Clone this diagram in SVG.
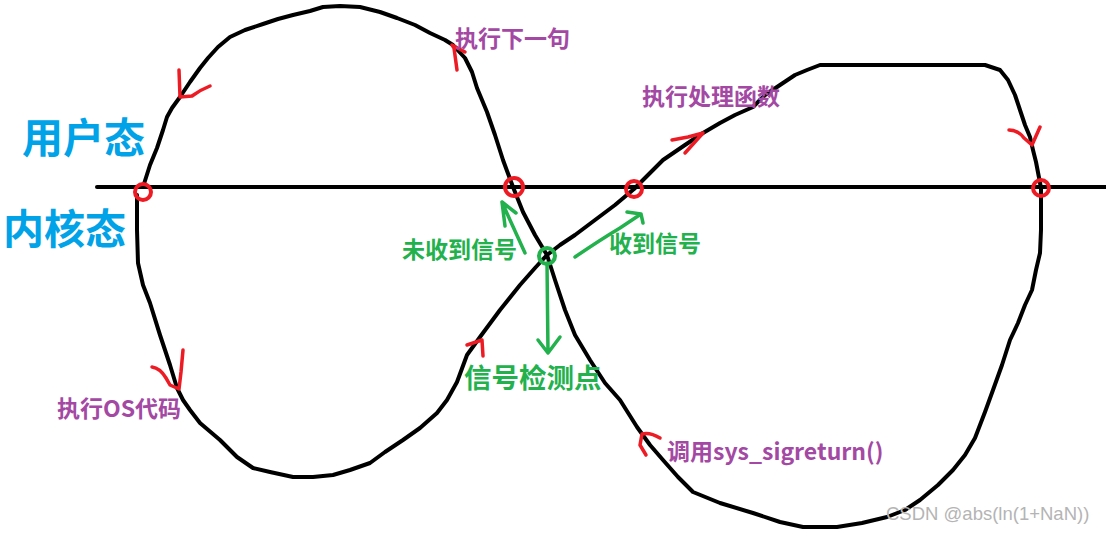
<svg xmlns="http://www.w3.org/2000/svg" width="1106" height="533" viewBox="0 0 1106 533">
<style>
.curve{fill:none;stroke:#000;stroke-width:4;stroke-linejoin:round;stroke-linecap:round}
.red{fill:none;stroke:#ed1c24;stroke-width:3.5;stroke-linejoin:round;stroke-linecap:round}
.grn{fill:none;stroke:#22b14c;stroke-width:3.5;stroke-linejoin:round;stroke-linecap:round}
.rc{fill:none;stroke:#ed1c24;stroke-width:4}
.gc{fill:none;stroke:#22b14c;stroke-width:4}
.mode{font-family:"Noto Sans CJK SC","Noto Sans",sans-serif;font-weight:bold;fill:#00a2e8}
.pur{font-family:"Noto Sans CJK SC","Noto Sans",sans-serif;font-weight:bold;fill:#a349a4;font-size:23px}
.gt{font-family:"Noto Sans CJK SC","Noto Sans",sans-serif;font-weight:bold;fill:#22b14c}
.wm{font-family:"Liberation Sans",Arial,sans-serif;fill:#b4b4b4;font-size:18.5px}
</style>
<rect width="1106" height="533" fill="#fff"/>
<g id="connectors">
<line class="curve" x1="97" y1="187" x2="1106" y2="187"/>
<path class="curve" d="M143,187 L150,165 L157,148 L163,130 L167,117 L172,108 L180,97 L190,82 L200,68 L208,58 L218,47 L230,37 L245,30 L263,24 L278,19 L293,15 L310,11 L323,7 L340,6 L360,7 L380,12 L397,18 L415,25 L430,33 L445,40 L453,45 L465,58 L472,72 L477,88 L487,112 L495,135 L503,160 L513,187 L523,212 L535,235 L547,255 L555,280 L565,310 L575,335 L590,360 L605,383 L620,400 L637,427 L650,445 L663,460 L678,477 L693,492 L720,503 L753,513 L780,522 L803,527 L837,527 L862,523 L887,517 L905,510 L920,500 L938,485 L953,470 L965,455 L975,438 L985,412 L993,390 L1002,365 L1010,340 L1018,323 L1025,305 L1032,290 L1036,270 L1040,253 L1041,230 L1041,188"/>
<path class="curve" d="M1041,188 L1036,162 L1033,150 L1030,137 L1025,125 L1020,110 L1015,95 L1008,80 L1000,70 L985,65 L950,65 L900,65 L820,65 L807,70 L795,75 L780,85 L765,95 L753,107 L735,115 L720,123 L703,133 L685,145 L663,160 L650,173 L634,189 L615,205 L595,220 L575,235 L560,245 L547,255 L535,268 L520,285 L500,310 L480,337 L467,355 L457,382 L447,400 L437,413 L420,428 L403,440 L385,452 L370,463 L350,470 L333,475 L313,477 L293,477 L270,472 L253,468 L237,457 L220,440 L200,423 L190,410 L183,400 L177,388 L170,365 L160,335 L150,303 L143,285 L138,263 L137,230 L137,195"/>
<path class="red" d="M179,70 L180,97 L192,96 Q200,90 210,86"/>
<path class="red" d="M457,70 L454,48 L452,45 L465,52"/>
<path class="red" d="M672,140 L688,137 L703,133 L685,153"/>
<path class="red" d="M1009,130 Q1018,130 1024,138 L1032,145 L1040,127"/>
<path class="red" d="M152,367 Q160,368 166,378 L170,385 L179,389 L181,372 L183,350"/>
<path class="red" d="M467,345 L482,340 L483,356"/>
<path class="red" d="M660,438 Q650,432 642,434 L640,445 L646,455"/>
<path class="grn" d="M525,253 L510,220 L502,202 M502,202 L505,226 M502,202 L516,213"/>
<path class="grn" d="M575,257 Q600,240 620,228 L641,214 M641,214 L627,212 M641,214 L643,223"/>
<path class="grn" d="M547,263 L548,353 M548,353 L538,340 M548,353 L560,337"/>
</g>
<g id="node-p1"><circle class="rc" cx="143" cy="192" r="8"/></g>
<g id="node-p2"><circle class="rc" cx="514" cy="187" r="9"/></g>
<g id="node-p3"><circle class="rc" cx="634" cy="189" r="8"/></g>
<g id="node-p4"><circle class="rc" cx="1041" cy="188" r="8"/></g>
<g id="node-check"><circle class="gc" cx="547" cy="256" r="8"/></g>
<g id="label-user"><text class="mode" x="22" y="153" font-size="41">用户态</text></g>
<g id="label-kernel"><text class="mode" x="3" y="244" font-size="41">内核态</text></g>
<g id="label-next"><text class="pur" x="455" y="47">执行下一句</text></g>
<g id="label-handler"><text class="pur" x="642" y="105">执行处理函数</text></g>
<g id="label-os"><text class="pur" x="57" y="417">执行OS代码</text></g>
<g id="label-sigreturn"><text class="pur" x="667" y="460">调用sys_sigreturn()</text></g>
<g id="label-nosig"><text class="gt" x="402" y="258" font-size="23">未收到信号</text></g>
<g id="label-sig"><text class="gt" x="609" y="252" font-size="23">收到信号</text></g>
<g id="label-checkpoint"><text class="gt" x="464" y="388" font-size="27.5">信号检测点</text></g>
<text class="wm" x="886" y="520">CSDN @abs(ln(1+NaN))</text>
</svg>
